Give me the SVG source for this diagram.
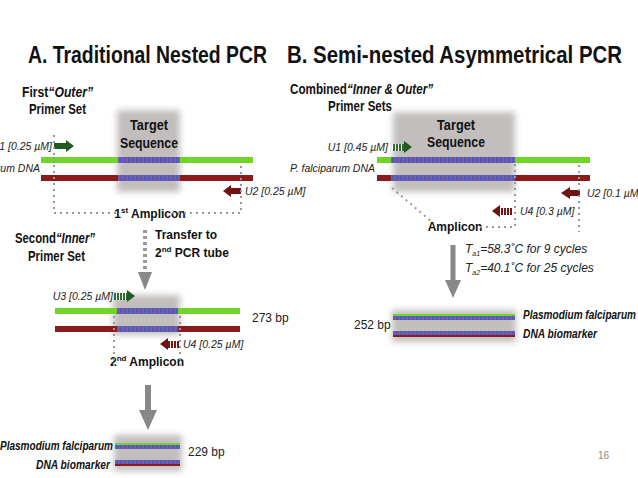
<svg xmlns="http://www.w3.org/2000/svg" width="638" height="478" viewBox="0 0 638 478">
<style>
.t{font-family:"Liberation Sans",Arial,sans-serif;font-weight:bold;font-size:24px;fill:#111}
.h{font-family:"Liberation Sans",Arial,sans-serif;font-weight:bold;font-size:15px;fill:#111}
.b{font-family:"Liberation Sans",Arial,sans-serif;font-weight:bold;font-size:12px;fill:#111}
.i{font-family:"Liberation Sans",Arial,sans-serif;font-style:italic;font-size:10.5px;fill:#222}
.ib{font-family:"Liberation Sans",Arial,sans-serif;font-style:italic;font-weight:bold;font-size:12px;fill:#111}
.it{font-family:"Liberation Sans",Arial,sans-serif;font-style:italic;font-size:12px;fill:#222}
.n{font-family:"Liberation Sans",Arial,sans-serif;font-size:12px;fill:#222}
.g{fill:#6fd629}.r{fill:#8b1a1a}
.d{stroke:#999;stroke-width:2;stroke-dasharray:2 4;fill:none}
.box{fill:#c2bebe;filter:url(#bl)}
</style>
<defs>
<filter id="bl" x="-20%" y="-20%" width="140%" height="140%"><feGaussianBlur stdDeviation="3"/></filter>
<pattern id="hp" width="4" height="8" patternUnits="userSpaceOnUse"><rect width="4" height="8" fill="#7a5aa8"/><rect width="2" height="8" fill="#4a5ec0"/></pattern>
<pattern id="gh" width="3" height="8" patternUnits="userSpaceOnUse"><rect width="3" height="8" fill="#fff"/><rect width="2" height="8" fill="#2e6b2e"/></pattern>
<pattern id="rh" width="3" height="8" patternUnits="userSpaceOnUse"><rect width="3" height="8" fill="#fff"/><rect width="2" height="8" fill="#7a1515"/></pattern>
</defs>
<text class="t" x="28" y="63" textLength="239" lengthAdjust="spacingAndGlyphs">A. Traditional Nested PCR</text>
<text class="t" x="287" y="63" textLength="335" lengthAdjust="spacingAndGlyphs">B. Semi-nested Asymmetrical PCR</text>

<g id="panelA1">
<text class="h" x="22" y="97" textLength="71" lengthAdjust="spacingAndGlyphs">First<tspan font-style="italic">“Outer”</tspan></text>
<text class="h" x="29" y="114" textLength="57" lengthAdjust="spacingAndGlyphs">Primer Set</text>
<rect class="box" x="117" y="110" width="63" height="82"/>
<text class="h" x="149" y="130" text-anchor="middle" textLength="38" lengthAdjust="spacingAndGlyphs">Target</text>
<text class="h" x="149" y="148" text-anchor="middle" textLength="58" lengthAdjust="spacingAndGlyphs">Sequence</text>
<text class="i" x="52" y="150" text-anchor="end">U1 [0.25 µM]</text>
<polygon points="54,143 66,143 66,140 74,146 66,152 66,149 54,149" fill="#1f5a22"/>
<rect class="g" x="41" y="157" width="212" height="6"/>
<rect class="r" x="41" y="175" width="212" height="6"/>
<rect x="118" y="157" width="62" height="6" fill="url(#hp)"/>
<rect x="118" y="175" width="62" height="6" fill="url(#hp)"/>
<text class="i" x="40" y="172" text-anchor="end">P. falciparum DNA</text>
<polygon points="241,188 231,188 231,185 223,191 231,197 231,194 241,194" fill="#6e1212"/>
<text class="i" x="245" y="195">U2 [0.25 µM]</text>
<text class="b" x="150" y="218" text-anchor="middle">1<tspan font-size="8" dy="-5">st</tspan><tspan dy="5"> Amplicon</tspan></text>
<text class="b" x="155" y="239">Transfer to</text>
<text class="b" x="155" y="257">2<tspan font-size="8" dy="-5">nd</tspan><tspan dy="5"> PCR tube</tspan></text>
<text class="h" x="15" y="243" textLength="80" lengthAdjust="spacingAndGlyphs">Second<tspan font-style="italic">“Inner”</tspan></text>
<text class="h" x="28" y="261" textLength="57" lengthAdjust="spacingAndGlyphs">Primer Set</text>
</g>

<g id="panelA2">
<rect class="box" x="113" y="295" width="67" height="40"/>
<text class="i" x="113" y="300" text-anchor="end">U3 [0.25 µM]</text>
<rect x="114" y="293" width="13" height="7" fill="url(#gh)"/>
<polygon points="127,290 135,296 127,302" fill="#1f5a22"/>
<rect class="g" x="55" y="308" width="185" height="6"/>
<rect class="r" x="55" y="326" width="185" height="6"/>
<rect x="117" y="308" width="61" height="6" fill="url(#hp)"/>
<rect x="117" y="326" width="61" height="6" fill="url(#hp)"/>
<text class="n" x="252" y="322">273 bp</text>
<polygon points="160,344 168,338 168,350" fill="#6e1212"/>
<rect x="168" y="341" width="12" height="7" fill="url(#rh)"/>
<text class="i" x="183" y="348">U4 [0.25 µM]</text>
<text class="b" x="147" y="366" text-anchor="middle">2<tspan font-size="8" dy="-5">nd</tspan><tspan dy="5"> Amplicon</tspan></text>
</g>

<g id="productA">
<rect class="box" x="114" y="435" width="68" height="36"/>
<rect x="115" y="443" width="65" height="6" fill="url(#hp)"/>
<rect x="115" y="460" width="65" height="6" fill="url(#hp)"/>
<rect x="115" y="443" width="65" height="2" fill="#6fd629"/>
<rect x="115" y="464" width="65" height="2" fill="#8b1a1a"/>
<text class="ib" x="113" y="450" text-anchor="end" textLength="113" lengthAdjust="spacingAndGlyphs">Plasmodium falciparum</text>
<text class="ib" x="110" y="469" text-anchor="end" textLength="74" lengthAdjust="spacingAndGlyphs">DNA biomarker</text>
<text class="n" x="188" y="456">229 bp</text>
</g>

<g id="panelB">
<text class="h" x="290" y="94" textLength="143" lengthAdjust="spacingAndGlyphs">Combined<tspan font-style="italic">“Inner &amp; Outer”</tspan></text>
<text class="h" x="328" y="111" textLength="64" lengthAdjust="spacingAndGlyphs">Primer Sets</text>
<rect class="box" x="393" y="112" width="122" height="80"/>
<text class="h" x="456" y="130" text-anchor="middle" textLength="38" lengthAdjust="spacingAndGlyphs">Target</text>
<text class="h" x="456" y="147" text-anchor="middle" textLength="58" lengthAdjust="spacingAndGlyphs">Sequence</text>
<text class="i" x="388" y="151" text-anchor="end">U1 [0.45 µM]</text>
<rect x="392" y="144" width="12" height="7" fill="url(#gh)"/>
<polygon points="404,141 412,147 404,153" fill="#1f5a22"/>
<rect class="g" x="377" y="157" width="213" height="6"/>
<rect class="r" x="377" y="175" width="213" height="6"/>
<rect x="391" y="157" width="124" height="6" fill="url(#hp)"/>
<rect x="391" y="175" width="124" height="6" fill="url(#hp)"/>
<text class="i" x="375" y="172" text-anchor="end">P. falciparum DNA</text>
<polygon points="580,190 570,190 570,187 561,193 570,199 570,196 580,196" fill="#6e1212"/>
<text class="i" x="587" y="197">U2 [0.1 µM]</text>
<polygon points="492,211 500,205 500,217" fill="#6e1212"/>
<rect x="500" y="208" width="12" height="7" fill="url(#rh)"/>
<text class="i" x="520" y="215">U4 [0.3 µM]</text>
<text class="b" x="455" y="231" text-anchor="middle">Amplicon</text>
<text class="it" x="465" y="253">T<tspan font-size="7" dy="3">a1</tspan><tspan dy="-3">=58.3˚C for 9 cycles</tspan></text>
<text class="it" x="465" y="272">T<tspan font-size="7" dy="3">a2</tspan><tspan dy="-3">=40.1˚C for 25 cycles</tspan></text>
</g>

<g id="productB">
<rect class="box" x="392" y="310" width="124" height="32"/>
<rect x="393" y="314" width="122" height="6" fill="url(#hp)"/>
<rect x="393" y="331" width="122" height="6" fill="url(#hp)"/>
<rect x="393" y="314" width="122" height="2" fill="#6fd629"/>
<rect x="393" y="335" width="122" height="2" fill="#8b1a1a"/>
<text class="n" x="354" y="329">252 bp</text>
<text class="ib" x="523" y="319" textLength="113" lengthAdjust="spacingAndGlyphs">Plasmodium falciparum</text>
<text class="ib" x="523" y="338" textLength="74" lengthAdjust="spacingAndGlyphs">DNA biomarker</text>
</g>

<g id="connectors">
<path class="d" d="M54 135V213H120M172 213H241V165"/>
<path d="M145 230V272" stroke="#999" stroke-width="4" stroke-dasharray="3 3"/>
<polygon points="138,272 152,272 145,290" fill="#888"/>
<path class="d" d="M114 316V370M180 316V370"/>
<path d="M148 385V412" stroke="#888" stroke-width="6"/>
<polygon points="139,410 157,410 148,430" fill="#888"/>
<path class="d" d="M392 188L432 222M480 227H515V160M579 165V232"/>
<path d="M453 245V282" stroke="#888" stroke-width="5"/>
<polygon points="445,280 461,280 453,298" fill="#888"/>
</g>
<text x="598" y="459" font-family="Liberation Sans,Arial,sans-serif" font-size="10" fill="#888">16</text>
</svg>
